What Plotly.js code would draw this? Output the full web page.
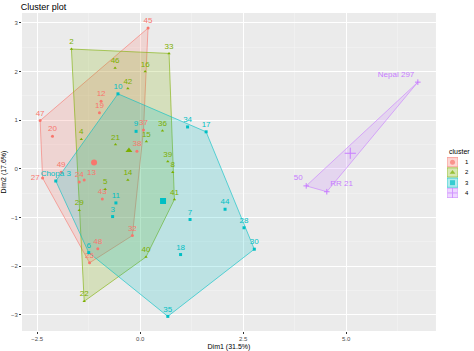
<!DOCTYPE html>
<html>
<head>
<meta charset="utf-8">
<script src="https://cdn.plot.ly/plotly-3.0.1.min.js"></script>
<style>html,body{margin:0;padding:0;background:#fff;}#chart{width:474px;height:351px;}</style>
</head>
<body>
<div id="chart"></div>
<script>
// Cluster 1
const c1_labels = ['45','47','20','12','19','37','38','49','27','24','13','43','32','48','25'];
const c1_x = [0.19,-2.43,-2.13,-0.95,-0.99,0.08,-0.08,-1.92,-2.37,-1.48,-1.36,-0.92,-0.19,-1.03,-1.23];
const c1_y = [2.89,0.99,0.67,1.39,1.15,0.80,0.36,-0.07,-0.19,-0.27,-0.23,-0.62,-1.37,-1.64,-1.93];
// Cluster 2
const c2_labels = ['2','33','46','16','42','4','21','15','36','39','8','14','5','29','22','40','41'];
const c2_x = [-1.67,0.70,-0.61,0.12,-0.30,-1.43,-0.60,0.15,0.54,0.67,0.79,-0.30,-0.85,-1.48,-1.36,0.14,0.83];
const c2_y = [2.46,2.37,2.07,2.00,1.65,0.61,0.50,0.56,0.78,0.15,-0.07,-0.23,-0.42,-0.85,-2.72,-1.81,-0.63];
// Cluster 3
const c3_labels = ['10','9','34','17','Chopa 3','11','3','6','35','18','7','44','28','30'];
const c3_x = [-0.54,-0.10,1.15,1.60,-2.05,-0.59,-0.67,-1.25,0.67,0.98,1.21,2.06,2.52,2.77];
const c3_y = [1.54,0.77,0.86,0.76,-0.25,-0.70,-0.98,-1.72,-3.03,-1.76,-1.04,-0.83,-1.21,-1.65];
// Cluster 4
const c4_labels = ['Nepal 297','50','RR 21'];
const c4_x = [6.74,4.03,4.53];
const c4_y = [1.78,-0.35,-0.47];

const clusterNames = ['1','2','3','4'];
const colors = ['#F8766D','#7CAE00','#00BFC4','#C77CFF'];
const fills = ['rgba(248,118,109,0.2)','rgba(124,174,0,0.2)','rgba(0,191,196,0.2)','rgba(199,124,255,0.2)'];
const keyFills = ['rgba(248,118,109,0.3)','rgba(124,174,0,0.3)','rgba(0,191,196,0.3)','rgba(199,124,255,0.3)'];
const symbols = ['circle','triangle-up','square','cross-thin'];
// label placement tweaks (by label text)
const labelPos = {'27':'middle left','Chopa 3':'top center','24':'top center','13':'top right','Nepal 297':'top left','RR 21':'top right','50':'top left'};

function hull(xs, ys){
  const pts = xs.map((x,i)=>[x,ys[i]]).sort((a,b)=>a[0]-b[0]||a[1]-b[1]);
  const cross=(o,a,b)=>(a[0]-o[0])*(b[1]-o[1])-(a[1]-o[1])*(b[0]-o[0]);
  const lower=[];for(const p of pts){while(lower.length>=2&&cross(lower[lower.length-2],lower[lower.length-1],p)<=0)lower.pop();lower.push(p);}
  const upper=[];for(let i=pts.length-1;i>=0;i--){const p=pts[i];while(upper.length>=2&&cross(upper[upper.length-2],upper[upper.length-1],p)<=0)upper.pop();upper.push(p);}
  upper.pop();lower.pop();
  const h=lower.concat(upper);h.push(h[0]);
  return {x:h.map(p=>p[0]), y:h.map(p=>p[1])};
}
const mean=a=>a.reduce((s,v)=>s+v,0)/a.length;

const clusters=[[c1_labels,c1_x,c1_y],[c2_labels,c2_x,c2_y],[c3_labels,c3_x,c3_y],[c4_labels,c4_x,c4_y]];
const traces=[];
clusters.forEach((c,i)=>{
  const h=hull(c[1],c[2]);
  traces.push({type:'scatter',mode:'lines',x:h.x,y:h.y,fill:'toself',fillcolor:fills[i],
    line:{color:colors[i],width:0.6},name:clusterNames[i],showlegend:false,hoverinfo:'skip'});
});
clusters.forEach((c,i)=>{
  traces.push({type:'scatter',mode:'markers+text',x:c[1],y:c[2],text:c[0],
    textposition:c[0].map(l=>labelPos[l]||'top center'),
    textfont:{family:'Liberation Sans, Arial',size:8,color:colors[i]},
    marker:{symbol:symbols[i],size:i===3?4:3,color:colors[i],line:{color:colors[i],width:i===3?1:0}},
    showlegend:false,name:clusterNames[i]});
});
clusters.forEach((c,i)=>{
  traces.push({type:'scatter',mode:'markers',x:[mean(c[1])],y:[mean(c[2])],
    marker:{symbol:symbols[i],size:i===3?8:6,color:colors[i],line:{color:colors[i],width:i===3?1:0}},
    showlegend:false,name:clusterNames[i]});
});
// legend key symbols (on a small hidden axis pair at the right)
traces.push({type:'scatter',mode:'markers',xaxis:'x2',yaxis:'y2',
  x:clusterNames.map(()=>0.5),y:clusterNames.map((n,i)=>clusterNames.length-0.5-i),
  marker:{symbol:symbols,size:[5,5,5,7],color:colors,line:{color:colors,width:[0,0,0,1]}},
  showlegend:false,hoverinfo:'skip'});

const shapes=clusterNames.map((n,i)=>({type:'rect',xref:'x2',yref:'y2',x0:0,x1:1,
  y0:clusterNames.length-1-i+0.05,y1:clusterNames.length-i-0.05,
  fillcolor:keyFills[i],line:{color:colors[i],width:0.6},layer:'below'}));
const annotations=clusterNames.map((n,i)=>({xref:'paper',yref:'y2',x:0.984,y:clusterNames.length-0.5-i,
  text:n,showarrow:false,xanchor:'left',yanchor:'middle',font:{size:6,color:'#000000'}}));
annotations.push({xref:'paper',yref:'paper',x:0.9487,y:0.566,text:'cluster',showarrow:false,
  xanchor:'left',yanchor:'middle',font:{size:7,color:'#000000'}});

const layout={
  width:474,height:351,
  margin:{l:22,r:4,t:13,b:20,pad:0},
  paper_bgcolor:'#ffffff',plot_bgcolor:'rgba(0,0,0,0)',
  font:{family:'Liberation Sans, Arial',size:7,color:'#4D4D4D'},
  title:{text:'Cluster plot',xref:'container',yref:'container',x:0.044,xanchor:'left',y:0.98,yanchor:'middle',
    font:{family:'Liberation Sans, Arial',size:9,color:'#000000'}},
  xaxis:{domain:[0,0.924],range:[-2.87,7.18],tick0:0,dtick:2.5,tickformat:'.1f',showgrid:true,gridcolor:'#ffffff',gridwidth:1,
    zeroline:false,showline:false,ticks:'outside',ticklen:2,tickcolor:'#333333',tickfont:{size:6,color:'#4D4D4D'},
    minor:{dtick:1.25,showgrid:true,gridcolor:'#f5f5f5',gridwidth:0.5},
    title:{text:'Dim1 (31.5%)',font:{size:7,color:'#000000'},standoff:3}},
  yaxis:{range:[-3.33,3.20],tick0:0,dtick:1,showgrid:true,gridcolor:'#ffffff',gridwidth:1,
    zeroline:false,showline:false,ticks:'outside',ticklen:2,tickcolor:'#333333',tickfont:{size:6,color:'#4D4D4D'},
    minor:{dtick:0.5,showgrid:true,gridcolor:'#f5f5f5',gridwidth:0.5},
    title:{text:'Dim2 (17.6%)',font:{size:7,color:'#000000'},standoff:4}},
  xaxis2:{domain:[0.9487,0.9732],range:[0,1],visible:false,anchor:'y2',fixedrange:true},
  yaxis2:{domain:[0.418,0.547],range:[0,4],visible:false,anchor:'x2',fixedrange:true},
  shapes:[{type:'rect',xref:'x domain',yref:'y domain',x0:0,x1:1,y0:0,y1:1,fillcolor:'#EBEBEB',line:{width:0},layer:'below'}].concat(shapes),
  annotations:annotations,
  showlegend:false
};
Plotly.newPlot('chart',traces,layout,{displayModeBar:false,staticPlot:true});
</script>
</body>
</html>
